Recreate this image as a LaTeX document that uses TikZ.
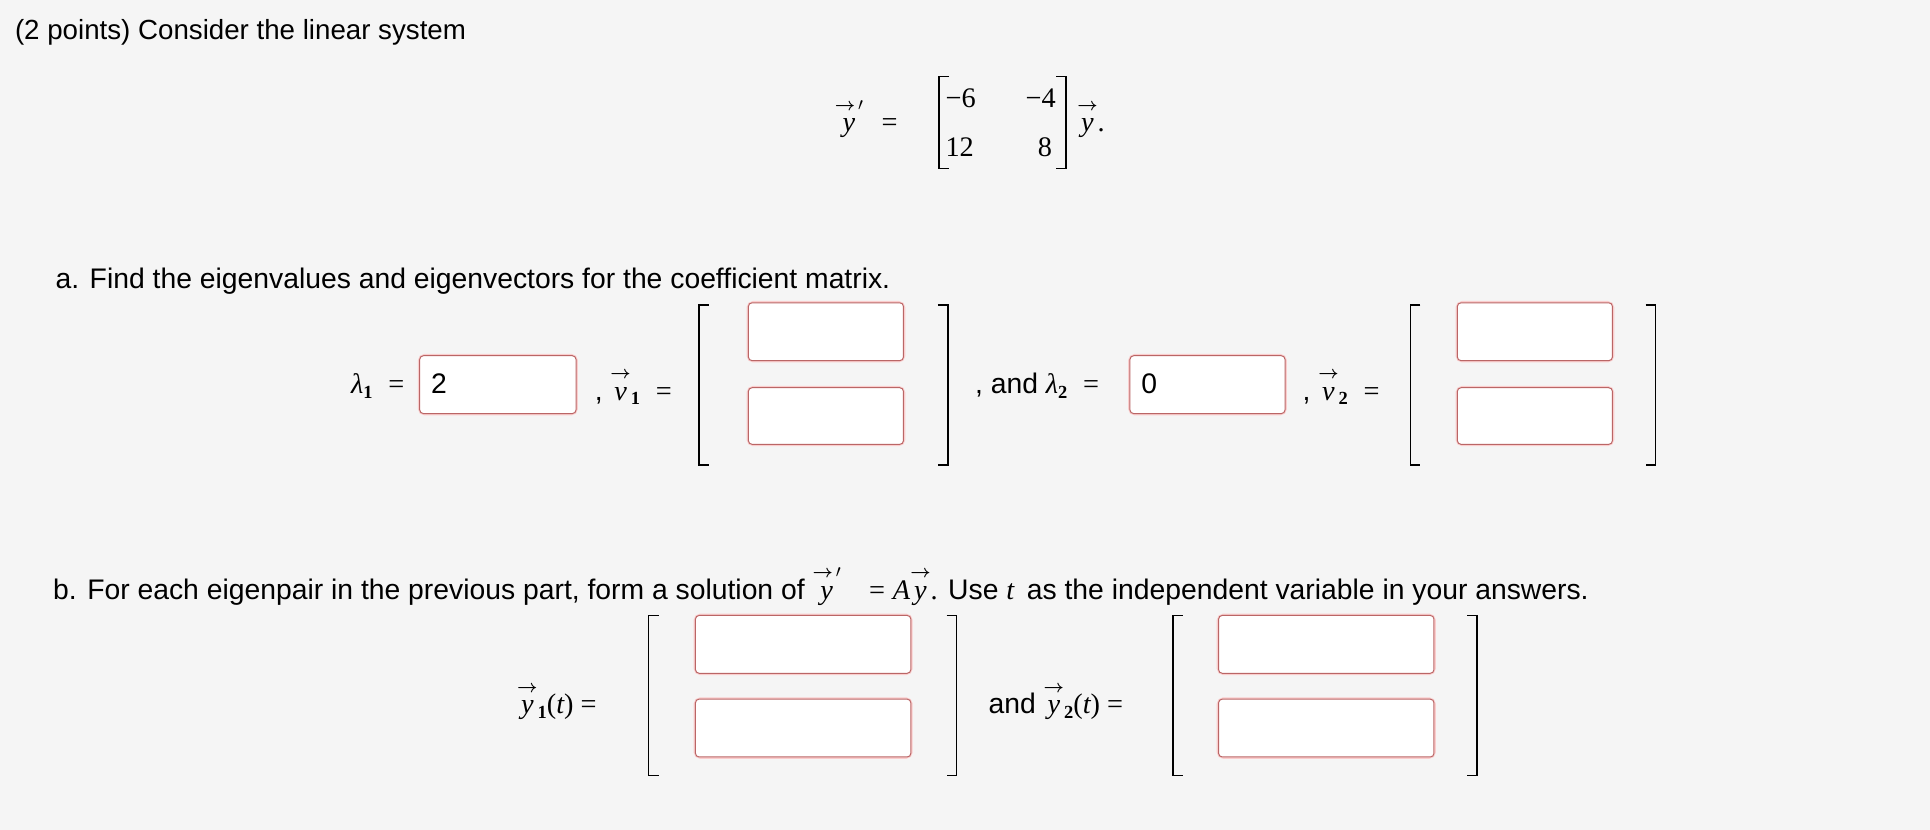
\documentclass[tikz,border=0pt]{standalone}
\usepackage{amsmath}
\usepackage{fontspec}
\setmainfont{Liberation Sans}
\newfontfamily\mathserif{Liberation Serif}
\newcommand{\arr}{\ensuremath{\boldsymbol{\rightarrow}}}
\newcommand{\vecx}[2]{\ensuremath{\overset{\raisebox{2pt}{\hbox{\fontsize{14}{14}\selectfont\arr#2}}}{\hbox{\mathserif\itshape #1}}}}
\newcommand{\sub}[1]{\raisebox{-4pt}{\fontsize{15}{15}\selectfont\mathserif\bfseries #1}}
\newcommand{\ms}[1]{{\mathserif #1}}
\newcommand{\mi}[1]{{\mathserif\itshape #1}}
\begin{document}
\begin{tikzpicture}[x=1pt,y=-1pt,
  txt/.style={anchor=base west,inner sep=0pt,font=\fontsize{23}{26}\selectfont},
  ans/.style={draw=red!55!black!60,fill=white,rounded corners=3pt,line width=0.8pt},
  glow/.style={draw=red!35,line width=3pt,rounded corners=4pt,opacity=0.5},
  brk/.style={line width=1.3pt}]
\useasboundingbox[fill=black!4] (0,0) rectangle (1568,674);
\newcommand{\abox}[4]{\draw[glow] (#1,#2) rectangle (#3,#4); \draw[ans] (#1,#2) rectangle (#3,#4);}
\newcommand{\lbrk}[3]{\draw[brk] (#1+8,#2) -- (#1,#2) -- (#1,#3) -- (#1+8,#3);}
\newcommand{\rbrk}[3]{\draw[brk] (#1-8,#2) -- (#1,#2) -- (#1,#3) -- (#1-8,#3);}
\node[txt,font=\fontsize{22.5}{26}\selectfont] (title) at (12,32) {(2 points) Consider the linear system};
% matrix equation
\node[txt] (lhs) at (678,107) {\vecx{y}{\,$\prime$}};
\node[txt] (eq0) at (716,107) {\ms{=}};
\lbrk{763}{62}{137}
\rbrk{866}{62}{137}
\node[txt] (m11) at (768,87) {\ms{\textminus6}};
\node[txt] (m12) at (833,87) {\ms{\textminus4}};
\node[txt] (m21) at (768,127) {\ms{12}};
\node[txt] (m22) at (843,127) {\ms{8}};
\node[txt] (rhs) at (875,107) {\vecx{y}{}\ms{.}};
% part a
\node[txt] (pa) at (45,234) {a. Find the eigenvalues and eigenvectors for the coefficient matrix.};
\node[txt] (l1) at (285,320) {\mi{λ}\sub{1}\;\;\ms{=}};
\abox{341}{289}{468}{336}
\node[txt] (v1val) at (350,320) {2};
\node[txt] (v1) at (483,325) {, \vecx{v}{}\sub{1}\;\;\ms{=}};
\lbrk{568}{248}{378}
\rbrk{770}{248}{378}
\abox{608}{246}{734}{293}
\abox{608}{315}{734}{361}
\node[txt] (l2) at (792,320) {, and \mi{λ}\sub{2}\;\;\ms{=}};
\abox{918}{289}{1044}{336}
\node[txt] (v2val) at (927,320) {0};
\node[txt] (v2) at (1058,325) {, \vecx{v}{}\sub{2}\;\;\ms{=}};
\lbrk{1146}{248}{378}
\rbrk{1345}{248}{378}
\abox{1184}{246}{1310}{293}
\abox{1184}{315}{1310}{361}
% part b
\node[txt] (pb) at (43,487) {b. For each eigenpair in the previous part, form a solution of \vecx{y}{\,$\prime$}\quad\ms{=} \mi{A}\vecx{y}{}\ms{.} Use \mi{t}\, as the independent variable in your answers.};
\node[txt] (y1) at (420,580) {\vecx{y}{}\sub{1}\ms{(\mi{t}) =}};
\lbrk{527}{500}{630}
\rbrk{777}{500}{630}
\abox{565}{500}{740}{547}
\abox{565}{568}{740}{615}
\node[txt] (y2) at (803,580) {and \vecx{y}{}\sub{2}\ms{(\mi{t}) =}};
\lbrk{953}{500}{630}
\rbrk{1200}{500}{630}
\abox{990}{500}{1165}{547}
\abox{990}{568}{1165}{615}
\end{tikzpicture}
\end{document}
